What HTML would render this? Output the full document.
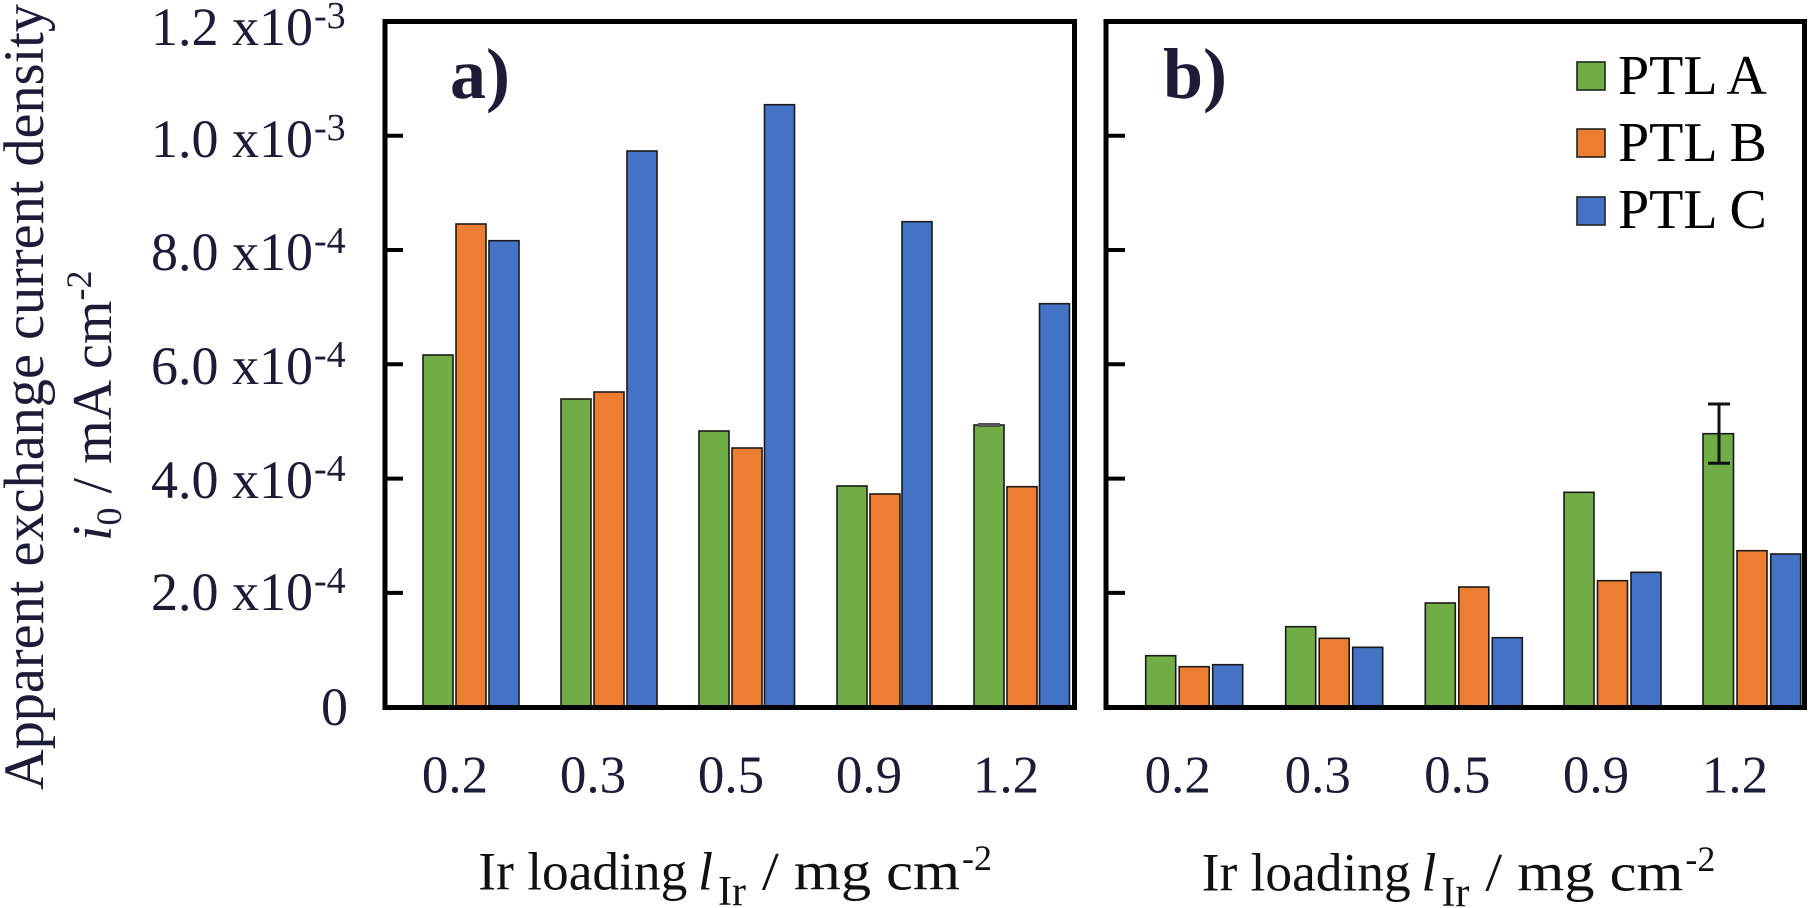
<!DOCTYPE html>
<html>
<head>
<meta charset="utf-8">
<style>
  html, body { margin: 0; padding: 0; background: #ffffff; }
  svg { display: block; }
  text { font-family: "Liberation Serif", "Times New Roman", serif; }
</style>
</head>
<body>
<svg width="1808" height="908" viewBox="0 0 1808 908" xmlns="http://www.w3.org/2000/svg" font-family="'Liberation Serif', serif">
  <rect x="0" y="0" width="1808" height="908" fill="#ffffff"/>

  <!-- ===== Y axis title ===== -->
  <text transform="translate(43,790) rotate(-90)" font-size="57" fill="#1c1b38" textLength="786" lengthAdjust="spacingAndGlyphs">Apparent exchange current density</text>
  <text transform="translate(111,541) rotate(-90)" font-size="56" fill="#1c1b38"><tspan font-style="italic">i</tspan><tspan font-size="36" dy="10">0</tspan><tspan dy="-10"> / mA cm</tspan><tspan font-size="36" dy="-20">-2</tspan></text>

  <!-- ===== Y tick labels ===== -->
  <g font-size="54" fill="#1c1b38">
    <text x="313" y="45" text-anchor="end">1.2 x10</text>
    <text x="314" y="28" font-size="38">-3</text>
    <text x="313" y="157" text-anchor="end">1.0 x10</text>
    <text x="314" y="140" font-size="38">-3</text>
    <text x="313" y="270" text-anchor="end">8.0 x10</text>
    <text x="314" y="253" font-size="38">-4</text>
    <text x="313" y="384" text-anchor="end">6.0 x10</text>
    <text x="314" y="367" font-size="38">-4</text>
    <text x="313" y="498" text-anchor="end">4.0 x10</text>
    <text x="314" y="481" font-size="38">-4</text>
    <text x="313" y="610" text-anchor="end">2.0 x10</text>
    <text x="314" y="593" font-size="38">-4</text>
    <text x="348" y="725" text-anchor="end">0</text>
  </g>

  <!-- ===== Panel a bars ===== -->
  <g stroke="#1a1a1a" stroke-width="1.6">
    <rect x="423" y="355" width="30" height="351" fill="#70AD47"/>
    <rect x="456" y="224" width="30" height="482" fill="#ED7D31"/>
    <rect x="489" y="240.7" width="30" height="465.3" fill="#4472C4"/>
    <rect x="561" y="399" width="30" height="307" fill="#70AD47"/>
    <rect x="594" y="392" width="30" height="314" fill="#ED7D31"/>
    <rect x="627" y="151" width="30" height="555" fill="#4472C4"/>
    <rect x="699" y="431" width="30" height="275" fill="#70AD47"/>
    <rect x="732" y="448" width="30" height="258" fill="#ED7D31"/>
    <rect x="764.5" y="104.7" width="30" height="601.3" fill="#4472C4"/>
    <rect x="837" y="486" width="30" height="220" fill="#70AD47"/>
    <rect x="870" y="494" width="30" height="212" fill="#ED7D31"/>
    <rect x="902" y="221.7" width="30" height="484.3" fill="#4472C4"/>
    <rect x="974" y="425" width="30" height="281" fill="#70AD47"/>
    <rect x="1007" y="486.7" width="30" height="219.3" fill="#ED7D31"/>
    <rect x="1039.5" y="303.7" width="30" height="402.3" fill="#4472C4"/>
  </g>
  <rect x="978" y="423" width="22" height="4" fill="#555555"/>

  <!-- ===== Panel b bars ===== -->
  <g stroke="#1a1a1a" stroke-width="1.6">
    <rect x="1145.7" y="655.7" width="30" height="50.3" fill="#70AD47"/>
    <rect x="1179.2" y="666.7" width="30" height="39.3" fill="#ED7D31"/>
    <rect x="1212.7" y="664.7" width="30" height="41.3" fill="#4472C4"/>
    <rect x="1285.7" y="626.7" width="30" height="79.3" fill="#70AD47"/>
    <rect x="1319.2" y="638.3" width="30" height="67.7" fill="#ED7D31"/>
    <rect x="1352.7" y="647.3" width="30" height="58.7" fill="#4472C4"/>
    <rect x="1425.3" y="603" width="30" height="103" fill="#70AD47"/>
    <rect x="1458.8" y="587" width="30" height="119" fill="#ED7D31"/>
    <rect x="1492.3" y="637.7" width="30" height="68.3" fill="#4472C4"/>
    <rect x="1564" y="492.3" width="30" height="213.7" fill="#70AD47"/>
    <rect x="1597.5" y="580.7" width="30" height="125.3" fill="#ED7D31"/>
    <rect x="1631" y="572.3" width="30" height="133.7" fill="#4472C4"/>
    <rect x="1703" y="433.7" width="30.5" height="272.3" fill="#70AD47"/>
    <rect x="1737" y="550.7" width="30" height="155.3" fill="#ED7D31"/>
    <rect x="1770.7" y="554" width="30" height="152" fill="#4472C4"/>
  </g>
  <!-- error bar -->
  <g stroke="#111111" stroke-width="3">
    <line x1="1719" y1="404" x2="1719" y2="463.3"/>
    <line x1="1708" y1="404" x2="1730" y2="404"/>
    <line x1="1708" y1="463.3" x2="1730" y2="463.3"/>
  </g>

  <!-- ===== Frames ===== -->
  <g fill="none" stroke="#000000" stroke-width="5">
    <rect x="385" y="21.5" width="689.5" height="686"/>
    <rect x="1106" y="21.5" width="698.5" height="686"/>
  </g>
  <g stroke="#000000" stroke-width="4">
    <line x1="385" y1="135.7" x2="403" y2="135.7"/>
    <line x1="385" y1="250" x2="403" y2="250"/>
    <line x1="385" y1="364.3" x2="403" y2="364.3"/>
    <line x1="385" y1="478.6" x2="403" y2="478.6"/>
    <line x1="385" y1="592.9" x2="403" y2="592.9"/>
    <line x1="1106" y1="135.7" x2="1125" y2="135.7"/>
    <line x1="1106" y1="250" x2="1125" y2="250"/>
    <line x1="1106" y1="364.3" x2="1125" y2="364.3"/>
    <line x1="1106" y1="478.6" x2="1125" y2="478.6"/>
    <line x1="1106" y1="592.9" x2="1125" y2="592.9"/>
  </g>

  <!-- panel labels -->
  <text x="450" y="98" font-size="72" font-weight="bold" fill="#1c1b38">a)</text>
  <text x="1163" y="98" font-size="72" font-weight="bold" fill="#1c1b38">b)</text>

  <!-- legend -->
  <g stroke="#222222" stroke-width="1.6">
    <rect x="1577" y="62" width="28" height="28" fill="#70AD47"/>
    <rect x="1577" y="129" width="28" height="28" fill="#ED7D31"/>
    <rect x="1577" y="197" width="28" height="28" fill="#4472C4"/>
  </g>
  <g font-size="56" fill="#000000">
    <text x="1618" y="94">PTL A</text>
    <text x="1618" y="161">PTL B</text>
    <text x="1618" y="228">PTL C</text>
  </g>

  <!-- ===== X tick labels ===== -->
  <g font-size="53" fill="#1c1b38" text-anchor="middle">
    <text x="455" y="792.5">0.2</text>
    <text x="593" y="792.5">0.3</text>
    <text x="731" y="792.5">0.5</text>
    <text x="869" y="792.5">0.9</text>
    <text x="1006" y="792.5">1.2</text>
    <text x="1177.7" y="792.5">0.2</text>
    <text x="1317.7" y="792.5">0.3</text>
    <text x="1457.3" y="792.5">0.5</text>
    <text x="1596" y="792.5">0.9</text>
    <text x="1735" y="792.5">1.2</text>
  </g>

  <!-- ===== X axis titles ===== -->
  <g fill="#111111">
    <text x="478.3" y="889.5" font-size="54" textLength="209" lengthAdjust="spacingAndGlyphs">Ir loading</text>
    <text x="698" y="889.5" font-size="54" font-style="italic">l</text>
    <text x="718" y="905" font-size="42">Ir</text>
    <text x="762" y="889.5" font-size="54" textLength="198" lengthAdjust="spacingAndGlyphs">/ mg cm</text>
    <text x="962" y="870" font-size="36">-2</text>

    <text x="1201.7" y="890.5" font-size="54" textLength="209" lengthAdjust="spacingAndGlyphs">Ir loading</text>
    <text x="1421.4" y="890.5" font-size="54" font-style="italic">l</text>
    <text x="1441.4" y="906" font-size="42">Ir</text>
    <text x="1485.4" y="890.5" font-size="54" textLength="198" lengthAdjust="spacingAndGlyphs">/ mg cm</text>
    <text x="1685.4" y="871" font-size="36">-2</text>
  </g>
</svg>
</body>
</html>
